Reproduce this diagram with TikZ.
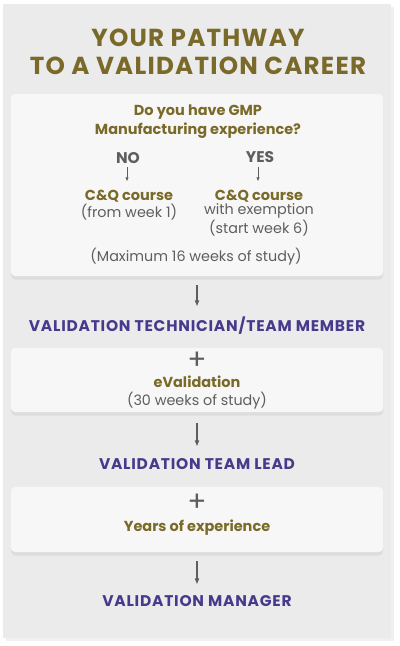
\documentclass[tikz,border=0pt]{standalone}
\usepackage{fontspec}
\setmainfont{Poppins}
\newfontfamily\spacedfont[LetterSpace=5]{Poppins}
\usetikzlibrary{shadows,arrows.meta}
\definecolor{pathgold}{HTML}{7A6A2A}
\definecolor{pathpurple}{HTML}{463A8C}
\definecolor{pathgray}{HTML}{5E5E5E}
\definecolor{panelgray}{HTML}{EBEBEB}
\definecolor{cardwhite}{HTML}{F7F7F7}
\begin{document}
\begin{tikzpicture}
[
    x=0.025cm, y=-0.025cm,
    panel/.style={fill=panelgray, minimum width=9.7cm, minimum height=15.85cm,
        drop shadow={opacity=0.12, shadow xshift=2pt, shadow yshift=-2pt}},
    card/.style={fill=cardwhite, rounded corners=3pt, minimum width=9.3cm,
        drop shadow={opacity=0.12, shadow xshift=0pt, shadow yshift=-2.5pt}},
    heading/.style={text=pathgold, font=\spacedfont\fontsize{17.5}{19.5}\selectfont\bfseries, align=center},
    course/.style={text=pathgold, font=\fontsize{10.3}{13.5}\selectfont\bfseries, align=center},
    note/.style={text=pathgray, font=\fontsize{10.2}{10.8}\selectfont, align=center},
    answer/.style={text=pathgray, font=\fontsize{11}{12}\selectfont\bfseries},
    role/.style={text=pathpurple, font=\spacedfont\fontsize{11}{12}\selectfont\bfseries},
    plus/.style={text=pathgray, inner sep=0pt, font=\fontsize{20}{20}\selectfont},
    arr/.style={draw=pathgray, line width=0.8pt, -{Triangle[length=4pt, width=3pt]}},
    smallarr/.style={draw=pathgray, line width=0.5pt, -{Triangle[length=2.5pt, width=2pt]}},
]
\useasboundingbox (0,0) rectangle (400,646);
\node[panel] (panel) at (197,321) {};

\node[heading] (title) at (198,52) {YOUR PATHWAY\\TO A VALIDATION CAREER};

% question card
\node[card, minimum height=4.55cm] (qcard) at (197,185) {};
\node[course] (question) at (198,122) {Do you have GMP\\Manufacturing experience?};
\node[answer] (no) at (128,158) {NO};
\node[answer] (yes) at (260,157) {YES};
\node[course] (cqno) at (129,196) {C\&Q course};
\node[note] (weekone) at (129,212) {(from week 1)};
\node[course] (cqyes) at (259,196) {C\&Q course};
\node[note] (exempt) at (259,220) {with exemption\\(start week 6)};
\node[note] (maxweeks) at (196,257) {(Maximum 16 weeks of study)};
\coordinate (nofrom) at (127,167);
\coordinate (noto) at (127,181);
\coordinate (yesfrom) at (258,167);
\coordinate (yesto) at (258,181);
\draw[smallarr] (nofrom) -- (noto);
\draw[smallarr] (yesfrom) -- (yesto);

\node[role] (tech) at (197,326) {VALIDATION TECHNICIAN/TEAM MEMBER};
\coordinate (firstfrom) at (197,285);
\coordinate (firstto) at (197,306);
\draw[arr] (firstfrom) -- (firstto);

% eValidation card
\node[card, minimum height=1.6cm] (ecard) at (197,380) {};
\node[plus] (plusone) at (197,361) {+};
\node[course] (evalid) at (197,382) {eValidation};
\node[note] (thirty) at (197,401) {(30 weeks of study)};

\node[role] (lead) at (197,464) {VALIDATION TEAM LEAD};
\coordinate (secondfrom) at (197,423);
\coordinate (secondto) at (197,446);
\draw[arr] (secondfrom) -- (secondto);

% experience card
\node[card, minimum height=1.625cm] (xcard) at (197,519.5) {};
\node[plus] (plustwo) at (197,503) {+};
\node[course] (years) at (197,528) {Years of experience};

\node[role] (manager) at (197,601) {VALIDATION MANAGER};
\coordinate (thirdfrom) at (197,561);
\coordinate (thirdto) at (197,584);
\draw[arr] (thirdfrom) -- (thirdto);
\end{tikzpicture}
\end{document}
